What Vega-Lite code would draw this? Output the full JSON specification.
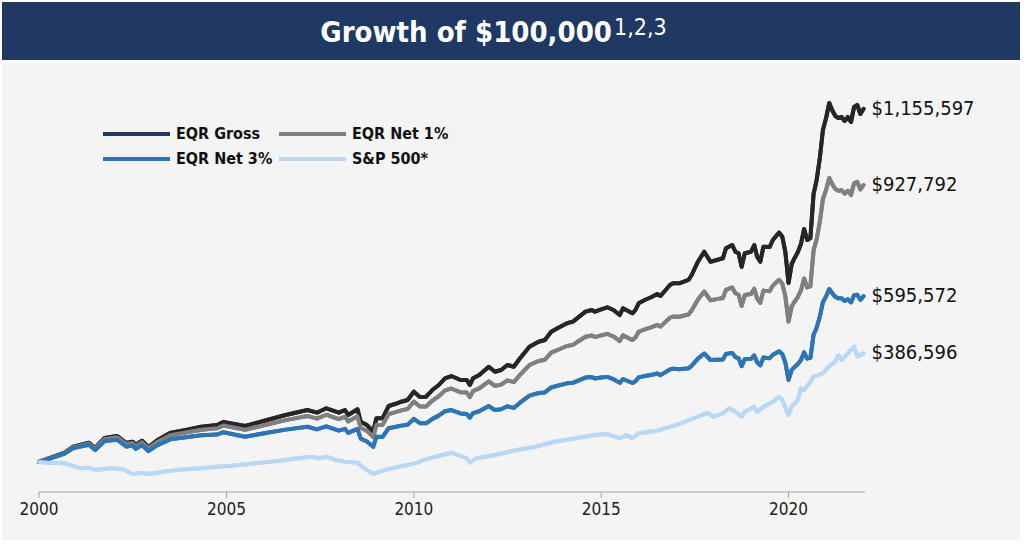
{
"$schema": "https://vega.github.io/schema/vega-lite/v6.json",
"padding": {"left": 2, "top": 2, "right": 4, "bottom": 10},
"background": "white",
"spacing": 2,
"config": {"view": {"stroke": null}, "font": "DejaVu Sans Condensed, Liberation Sans, sans-serif"},
"datasets": {
"ticks": [{"d": "2000-01", "lab": "2000"}, {"d": "2005-01", "lab": "2005"}, {"d": "2010-01", "lab": "2010"}, {"d": "2015-01", "lab": "2015"}, {"d": "2020-01", "lab": "2020"}],
"span": [{"d": "2000-01", "d2": "2022-01-15"}],
"ends": [
{"d": "2022-01", "v": 1155.6, "t": "$1,155,597"},
{"d": "2022-01", "v": 927.8, "t": "$927,792"},
{"d": "2022-01", "v": 595.6, "t": "$595,572"},
{"d": "2022-01", "v": 425.0, "t": "$386,596"}
],
"lines": [
{"s":"EQR Gross","d":"2000-01","v":100},{"s":"EQR Gross","d":"2000-09","v":126.9},{"s":"EQR Gross","d":"2000-12","v":145.7},{"s":"EQR Gross","d":"2001-05","v":157.7},{"s":"EQR Gross","d":"2001-07","v":141.9},{"s":"EQR Gross","d":"2001-10","v":171.8},{"s":"EQR Gross","d":"2002-02","v":177.7},{"s":"EQR Gross","d":"2002-05","v":156.8},{"s":"EQR Gross","d":"2002-07","v":160.7},{"s":"EQR Gross","d":"2002-08","v":150.8},{"s":"EQR Gross","d":"2002-10","v":163.7},{"s":"EQR Gross","d":"2002-12","v":144.9},{"s":"EQR Gross","d":"2003-03","v":165.8},{"s":"EQR Gross","d":"2003-07","v":186.7},{"s":"EQR Gross","d":"2003-12","v":195.7},{"s":"EQR Gross","d":"2004-05","v":205.5},{"s":"EQR Gross","d":"2004-10","v":210.6},{"s":"EQR Gross","d":"2004-12","v":219.6},{"s":"EQR Gross","d":"2005-07","v":207.6},{"s":"EQR Gross","d":"2006-02","v":225.6},{"s":"EQR Gross","d":"2006-08","v":240.5},{"s":"EQR Gross","d":"2007-03","v":255.5},{"s":"EQR Gross","d":"2007-06","v":247.4},{"s":"EQR Gross","d":"2007-09","v":260.6},{"s":"EQR Gross","d":"2008-01","v":247.4},{"s":"EQR Gross","d":"2008-03","v":255.5},{"s":"EQR Gross","d":"2008-04","v":240.5},{"s":"EQR Gross","d":"2008-07","v":257.6},{"s":"EQR Gross","d":"2008-08","v":220.5},{"s":"EQR Gross","d":"2008-10","v":210.6},{"s":"EQR Gross","d":"2008-12","v":190.6},{"s":"EQR Gross","d":"2009-01","v":230.7},{"s":"EQR Gross","d":"2009-03","v":230.7},{"s":"EQR Gross","d":"2009-05","v":267.4},{"s":"EQR Gross","d":"2009-07","v":273.4},{"s":"EQR Gross","d":"2009-09","v":280.3},{"s":"EQR Gross","d":"2009-11","v":285.4},{"s":"EQR Gross","d":"2010-01","v":310.2},{"s":"EQR Gross","d":"2010-03","v":294.4},{"s":"EQR Gross","d":"2010-05","v":295.2},{"s":"EQR Gross","d":"2010-07","v":315.3},{"s":"EQR Gross","d":"2010-09","v":330.2},{"s":"EQR Gross","d":"2010-11","v":350.3},{"s":"EQR Gross","d":"2011-01","v":357.1},{"s":"EQR Gross","d":"2011-04","v":345.2},{"s":"EQR Gross","d":"2011-06","v":345.2},{"s":"EQR Gross","d":"2011-07","v":330.2},{"s":"EQR Gross","d":"2011-08","v":350.3},{"s":"EQR Gross","d":"2011-10","v":360.1},{"s":"EQR Gross","d":"2012-01","v":384.9},{"s":"EQR Gross","d":"2012-03","v":370.0},{"s":"EQR Gross","d":"2012-05","v":375.1},{"s":"EQR Gross","d":"2012-07","v":390.0},{"s":"EQR Gross","d":"2012-09","v":384.9},{"s":"EQR Gross","d":"2012-11","v":410.1},{"s":"EQR Gross","d":"2013-02","v":444.7},{"s":"EQR Gross","d":"2013-05","v":459.7},{"s":"EQR Gross","d":"2013-07","v":464.8},{"s":"EQR Gross","d":"2013-09","v":489.6},{"s":"EQR Gross","d":"2013-11","v":499.8},{"s":"EQR Gross","d":"2014-02","v":514.7},{"s":"EQR Gross","d":"2014-04","v":519.6},{"s":"EQR Gross","d":"2014-06","v":534.5},{"s":"EQR Gross","d":"2014-08","v":549.5},{"s":"EQR Gross","d":"2014-10","v":554.5},{"s":"EQR Gross","d":"2014-11","v":549.5},{"s":"EQR Gross","d":"2015-01","v":556.6},{"s":"EQR Gross","d":"2015-03","v":562.6},{"s":"EQR Gross","d":"2015-05","v":554.5},{"s":"EQR Gross","d":"2015-07","v":539.5},{"s":"EQR Gross","d":"2015-08","v":559.6},{"s":"EQR Gross","d":"2015-11","v":544.6},{"s":"EQR Gross","d":"2015-12","v":554.5},{"s":"EQR Gross","d":"2016-01","v":574.5},{"s":"EQR Gross","d":"2016-03","v":584.4},{"s":"EQR Gross","d":"2016-05","v":592.5},{"s":"EQR Gross","d":"2016-07","v":602.3},{"s":"EQR Gross","d":"2016-08","v":596.3},{"s":"EQR Gross","d":"2016-11","v":629.2},{"s":"EQR Gross","d":"2016-12","v":634.3},{"s":"EQR Gross","d":"2017-02","v":634.3},{"s":"EQR Gross","d":"2017-05","v":644.2},{"s":"EQR Gross","d":"2017-06","v":659.1},{"s":"EQR Gross","d":"2017-08","v":698.9},{"s":"EQR Gross","d":"2017-10","v":728.8},{"s":"EQR Gross","d":"2017-12","v":698.9},{"s":"EQR Gross","d":"2018-02","v":704.0},{"s":"EQR Gross","d":"2018-04","v":709.1},{"s":"EQR Gross","d":"2018-05","v":739.0},{"s":"EQR Gross","d":"2018-07","v":748.8},{"s":"EQR Gross","d":"2018-08","v":728.8},{"s":"EQR Gross","d":"2018-09","v":724.0},{"s":"EQR Gross","d":"2018-10","v":683.9},{"s":"EQR Gross","d":"2018-11","v":724.0},{"s":"EQR Gross","d":"2019-01","v":728.8},{"s":"EQR Gross","d":"2019-02","v":748.8},{"s":"EQR Gross","d":"2019-03","v":713.8},{"s":"EQR Gross","d":"2019-04","v":698.9},{"s":"EQR Gross","d":"2019-05","v":743.7},{"s":"EQR Gross","d":"2019-07","v":742.9},{"s":"EQR Gross","d":"2019-08","v":763.8},{"s":"EQR Gross","d":"2019-10","v":786.2},{"s":"EQR Gross","d":"2019-11","v":773.6},{"s":"EQR Gross","d":"2019-12","v":727.9},{"s":"EQR Gross","d":"2020-01","v":635.2},{"s":"EQR Gross","d":"2020-02","v":692.0},{"s":"EQR Gross","d":"2020-03","v":710.0},{"s":"EQR Gross","d":"2020-04","v":727.9},{"s":"EQR Gross","d":"2020-05","v":751.8},{"s":"EQR Gross","d":"2020-06","v":796.7},{"s":"EQR Gross","d":"2020-07","v":763.8},{"s":"EQR Gross","d":"2020-08","v":769.8},{"s":"EQR Gross","d":"2020-09","v":901.3},{"s":"EQR Gross","d":"2020-10","v":943.2},{"s":"EQR Gross","d":"2020-11","v":1009.0},{"s":"EQR Gross","d":"2020-12","v":1092.7},{"s":"EQR Gross","d":"2021-01","v":1128.6},{"s":"EQR Gross","d":"2021-02","v":1173.4},{"s":"EQR Gross","d":"2021-03","v":1152.5},{"s":"EQR Gross","d":"2021-04","v":1134.5},{"s":"EQR Gross","d":"2021-05","v":1128.6},{"s":"EQR Gross","d":"2021-06","v":1131.6},{"s":"EQR Gross","d":"2021-07","v":1119.6},{"s":"EQR Gross","d":"2021-08","v":1131.6},{"s":"EQR Gross","d":"2021-09","v":1116.6},{"s":"EQR Gross","d":"2021-10","v":1161.5},{"s":"EQR Gross","d":"2021-11","v":1167.4},{"s":"EQR Gross","d":"2021-12","v":1140.5},{"s":"EQR Gross","d":"2022-01","v":1155.6},
{"s":"EQR Net 1%","d":"2000-01","v":100},{"s":"EQR Net 1%","d":"2000-09","v":126.1},{"s":"EQR Net 1%","d":"2000-12","v":144.4},{"s":"EQR Net 1%","d":"2001-05","v":155.6},{"s":"EQR Net 1%","d":"2001-07","v":139.8},{"s":"EQR Net 1%","d":"2001-10","v":168.8},{"s":"EQR Net 1%","d":"2002-02","v":174.0},{"s":"EQR Net 1%","d":"2002-05","v":153.2},{"s":"EQR Net 1%","d":"2002-07","v":156.7},{"s":"EQR Net 1%","d":"2002-08","v":146.9},{"s":"EQR Net 1%","d":"2002-10","v":159.2},{"s":"EQR Net 1%","d":"2002-12","v":140.7},{"s":"EQR Net 1%","d":"2003-03","v":160.6},{"s":"EQR Net 1%","d":"2003-07","v":180.2},{"s":"EQR Net 1%","d":"2003-12","v":188.2},{"s":"EQR Net 1%","d":"2004-05","v":196.7},{"s":"EQR Net 1%","d":"2004-10","v":200.8},{"s":"EQR Net 1%","d":"2004-12","v":209.0},{"s":"EQR Net 1%","d":"2005-07","v":196.4},{"s":"EQR Net 1%","d":"2006-02","v":212.2},{"s":"EQR Net 1%","d":"2006-08","v":225.1},{"s":"EQR Net 1%","d":"2007-03","v":237.7},{"s":"EQR Net 1%","d":"2007-06","v":229.6},{"s":"EQR Net 1%","d":"2007-09","v":241.3},{"s":"EQR Net 1%","d":"2008-01","v":228.3},{"s":"EQR Net 1%","d":"2008-03","v":235.4},{"s":"EQR Net 1%","d":"2008-04","v":221.4},{"s":"EQR Net 1%","d":"2008-07","v":236.5},{"s":"EQR Net 1%","d":"2008-08","v":202.3},{"s":"EQR Net 1%","d":"2008-10","v":192.9},{"s":"EQR Net 1%","d":"2008-12","v":174.3},{"s":"EQR Net 1%","d":"2009-01","v":210.8},{"s":"EQR Net 1%","d":"2009-03","v":210.4},{"s":"EQR Net 1%","d":"2009-05","v":243.5},{"s":"EQR Net 1%","d":"2009-07","v":248.5},{"s":"EQR Net 1%","d":"2009-09","v":254.4},{"s":"EQR Net 1%","d":"2009-11","v":258.5},{"s":"EQR Net 1%","d":"2010-01","v":280.5},{"s":"EQR Net 1%","d":"2010-03","v":265.8},{"s":"EQR Net 1%","d":"2010-05","v":266.1},{"s":"EQR Net 1%","d":"2010-07","v":283.7},{"s":"EQR Net 1%","d":"2010-09","v":296.6},{"s":"EQR Net 1%","d":"2010-11","v":314.2},{"s":"EQR Net 1%","d":"2011-01","v":319.7},{"s":"EQR Net 1%","d":"2011-04","v":308.3},{"s":"EQR Net 1%","d":"2011-06","v":307.8},{"s":"EQR Net 1%","d":"2011-07","v":294.2},{"s":"EQR Net 1%","d":"2011-08","v":311.8},{"s":"EQR Net 1%","d":"2011-10","v":320.0},{"s":"EQR Net 1%","d":"2012-01","v":341.2},{"s":"EQR Net 1%","d":"2012-03","v":327.4},{"s":"EQR Net 1%","d":"2012-05","v":331.4},{"s":"EQR Net 1%","d":"2012-07","v":344.0},{"s":"EQR Net 1%","d":"2012-09","v":338.9},{"s":"EQR Net 1%","d":"2012-11","v":360.5},{"s":"EQR Net 1%","d":"2013-02","v":389.9},{"s":"EQR Net 1%","d":"2013-05","v":402.1},{"s":"EQR Net 1%","d":"2013-07","v":405.8},{"s":"EQR Net 1%","d":"2013-09","v":426.8},{"s":"EQR Net 1%","d":"2013-11","v":434.9},{"s":"EQR Net 1%","d":"2014-02","v":446.8},{"s":"EQR Net 1%","d":"2014-04","v":450.3},{"s":"EQR Net 1%","d":"2014-06","v":462.4},{"s":"EQR Net 1%","d":"2014-08","v":474.6},{"s":"EQR Net 1%","d":"2014-10","v":478.1},{"s":"EQR Net 1%","d":"2014-11","v":473.4},{"s":"EQR Net 1%","d":"2015-01","v":478.7},{"s":"EQR Net 1%","d":"2015-03","v":483.1},{"s":"EQR Net 1%","d":"2015-05","v":475.3},{"s":"EQR Net 1%","d":"2015-07","v":461.7},{"s":"EQR Net 1%","d":"2015-08","v":478.5},{"s":"EQR Net 1%","d":"2015-11","v":464.5},{"s":"EQR Net 1%","d":"2015-12","v":472.5},{"s":"EQR Net 1%","d":"2016-01","v":489.2},{"s":"EQR Net 1%","d":"2016-03","v":496.8},{"s":"EQR Net 1%","d":"2016-05","v":502.8},{"s":"EQR Net 1%","d":"2016-07","v":510.3},{"s":"EQR Net 1%","d":"2016-08","v":504.8},{"s":"EQR Net 1%","d":"2016-11","v":531.3},{"s":"EQR Net 1%","d":"2016-12","v":535.1},{"s":"EQR Net 1%","d":"2017-02","v":534.2},{"s":"EQR Net 1%","d":"2017-05","v":541.2},{"s":"EQR Net 1%","d":"2017-06","v":553.3},{"s":"EQR Net 1%","d":"2017-08","v":585.7},{"s":"EQR Net 1%","d":"2017-10","v":609.7},{"s":"EQR Net 1%","d":"2017-12","v":583.7},{"s":"EQR Net 1%","d":"2018-02","v":587.0},{"s":"EQR Net 1%","d":"2018-04","v":590.3},{"s":"EQR Net 1%","d":"2018-05","v":614.7},{"s":"EQR Net 1%","d":"2018-07","v":621.8},{"s":"EQR Net 1%","d":"2018-08","v":604.7},{"s":"EQR Net 1%","d":"2018-09","v":600.2},{"s":"EQR Net 1%","d":"2018-10","v":566.5},{"s":"EQR Net 1%","d":"2018-11","v":599.2},{"s":"EQR Net 1%","d":"2019-01","v":602.1},{"s":"EQR Net 1%","d":"2019-02","v":618.1},{"s":"EQR Net 1%","d":"2019-03","v":588.7},{"s":"EQR Net 1%","d":"2019-04","v":576.0},{"s":"EQR Net 1%","d":"2019-05","v":612.4},{"s":"EQR Net 1%","d":"2019-07","v":610.7},{"s":"EQR Net 1%","d":"2019-08","v":627.4},{"s":"EQR Net 1%","d":"2019-10","v":644.7},{"s":"EQR Net 1%","d":"2019-11","v":633.8},{"s":"EQR Net 1%","d":"2019-12","v":595.9},{"s":"EQR Net 1%","d":"2020-01","v":519.5},{"s":"EQR Net 1%","d":"2020-02","v":565.5},{"s":"EQR Net 1%","d":"2020-03","v":579.8},{"s":"EQR Net 1%","d":"2020-04","v":593.9},{"s":"EQR Net 1%","d":"2020-05","v":612.9},{"s":"EQR Net 1%","d":"2020-06","v":648.9},{"s":"EQR Net 1%","d":"2020-07","v":621.6},{"s":"EQR Net 1%","d":"2020-08","v":626.0},{"s":"EQR Net 1%","d":"2020-09","v":732.3},{"s":"EQR Net 1%","d":"2020-10","v":765.7},{"s":"EQR Net 1%","d":"2020-11","v":818.4},{"s":"EQR Net 1%","d":"2020-12","v":885.6},{"s":"EQR Net 1%","d":"2021-01","v":913.9},{"s":"EQR Net 1%","d":"2021-02","v":949.3},{"s":"EQR Net 1%","d":"2021-03","v":931.7},{"s":"EQR Net 1%","d":"2021-04","v":916.3},{"s":"EQR Net 1%","d":"2021-05","v":910.8},{"s":"EQR Net 1%","d":"2021-06","v":912.5},{"s":"EQR Net 1%","d":"2021-07","v":902.0},{"s":"EQR Net 1%","d":"2021-08","v":910.9},{"s":"EQR Net 1%","d":"2021-09","v":898.1},{"s":"EQR Net 1%","d":"2021-10","v":933.4},{"s":"EQR Net 1%","d":"2021-11","v":937.4},{"s":"EQR Net 1%","d":"2021-12","v":915.0},{"s":"EQR Net 1%","d":"2022-01","v":927.8},
{"s":"EQR Net 3%","d":"2000-01","v":100},{"s":"EQR Net 3%","d":"2000-09","v":124.4},{"s":"EQR Net 3%","d":"2000-12","v":141.7},{"s":"EQR Net 3%","d":"2001-05","v":151.4},{"s":"EQR Net 3%","d":"2001-07","v":135.6},{"s":"EQR Net 3%","d":"2001-10","v":162.9},{"s":"EQR Net 3%","d":"2002-02","v":166.8},{"s":"EQR Net 3%","d":"2002-05","v":146.0},{"s":"EQR Net 3%","d":"2002-07","v":148.9},{"s":"EQR Net 3%","d":"2002-08","v":139.4},{"s":"EQR Net 3%","d":"2002-10","v":150.5},{"s":"EQR Net 3%","d":"2002-12","v":132.6},{"s":"EQR Net 3%","d":"2003-03","v":150.6},{"s":"EQR Net 3%","d":"2003-07","v":167.8},{"s":"EQR Net 3%","d":"2003-12","v":173.7},{"s":"EQR Net 3%","d":"2004-05","v":180.1},{"s":"EQR Net 3%","d":"2004-10","v":182.2},{"s":"EQR Net 3%","d":"2004-12","v":189.1},{"s":"EQR Net 3%","d":"2005-07","v":175.6},{"s":"EQR Net 3%","d":"2006-02","v":187.4},{"s":"EQR Net 3%","d":"2006-08","v":196.8},{"s":"EQR Net 3%","d":"2007-03","v":205.4},{"s":"EQR Net 3%","d":"2007-06","v":197.4},{"s":"EQR Net 3%","d":"2007-09","v":206.3},{"s":"EQR Net 3%","d":"2008-01","v":193.9},{"s":"EQR Net 3%","d":"2008-03","v":199.2},{"s":"EQR Net 3%","d":"2008-04","v":187.1},{"s":"EQR Net 3%","d":"2008-07","v":198.8},{"s":"EQR Net 3%","d":"2008-08","v":169.8},{"s":"EQR Net 3%","d":"2008-10","v":161.3},{"s":"EQR Net 3%","d":"2008-12","v":145.3},{"s":"EQR Net 3%","d":"2009-01","v":175.4},{"s":"EQR Net 3%","d":"2009-03","v":174.5},{"s":"EQR Net 3%","d":"2009-05","v":201.2},{"s":"EQR Net 3%","d":"2009-07","v":204.7},{"s":"EQR Net 3%","d":"2009-09","v":208.8},{"s":"EQR Net 3%","d":"2009-11","v":211.5},{"s":"EQR Net 3%","d":"2010-01","v":228.8},{"s":"EQR Net 3%","d":"2010-03","v":216.0},{"s":"EQR Net 3%","d":"2010-05","v":215.5},{"s":"EQR Net 3%","d":"2010-07","v":229.0},{"s":"EQR Net 3%","d":"2010-09","v":238.6},{"s":"EQR Net 3%","d":"2010-11","v":251.9},{"s":"EQR Net 3%","d":"2011-01","v":255.4},{"s":"EQR Net 3%","d":"2011-04","v":245.1},{"s":"EQR Net 3%","d":"2011-06","v":243.8},{"s":"EQR Net 3%","d":"2011-07","v":232.6},{"s":"EQR Net 3%","d":"2011-08","v":246.2},{"s":"EQR Net 3%","d":"2011-10","v":251.8},{"s":"EQR Net 3%","d":"2012-01","v":267.1},{"s":"EQR Net 3%","d":"2012-03","v":255.4},{"s":"EQR Net 3%","d":"2012-05","v":257.6},{"s":"EQR Net 3%","d":"2012-07","v":266.5},{"s":"EQR Net 3%","d":"2012-09","v":261.7},{"s":"EQR Net 3%","d":"2012-11","v":277.4},{"s":"EQR Net 3%","d":"2013-02","v":298.5},{"s":"EQR Net 3%","d":"2013-05","v":306.3},{"s":"EQR Net 3%","d":"2013-07","v":308.1},{"s":"EQR Net 3%","d":"2013-09","v":322.9},{"s":"EQR Net 3%","d":"2013-11","v":328.0},{"s":"EQR Net 3%","d":"2014-02","v":335.2},{"s":"EQR Net 3%","d":"2014-04","v":336.7},{"s":"EQR Net 3%","d":"2014-06","v":344.6},{"s":"EQR Net 3%","d":"2014-08","v":352.4},{"s":"EQR Net 3%","d":"2014-10","v":353.8},{"s":"EQR Net 3%","d":"2014-11","v":349.8},{"s":"EQR Net 3%","d":"2015-01","v":352.5},{"s":"EQR Net 3%","d":"2015-03","v":354.5},{"s":"EQR Net 3%","d":"2015-05","v":347.6},{"s":"EQR Net 3%","d":"2015-07","v":336.5},{"s":"EQR Net 3%","d":"2015-08","v":348.1},{"s":"EQR Net 3%","d":"2015-11","v":336.2},{"s":"EQR Net 3%","d":"2015-12","v":341.5},{"s":"EQR Net 3%","d":"2016-01","v":352.9},{"s":"EQR Net 3%","d":"2016-03","v":357.2},{"s":"EQR Net 3%","d":"2016-05","v":360.3},{"s":"EQR Net 3%","d":"2016-07","v":364.4},{"s":"EQR Net 3%","d":"2016-08","v":359.8},{"s":"EQR Net 3%","d":"2016-11","v":376.8},{"s":"EQR Net 3%","d":"2016-12","v":378.9},{"s":"EQR Net 3%","d":"2017-02","v":377.0},{"s":"EQR Net 3%","d":"2017-05","v":380.0},{"s":"EQR Net 3%","d":"2017-06","v":387.8},{"s":"EQR Net 3%","d":"2017-08","v":409.1},{"s":"EQR Net 3%","d":"2017-10","v":424.5},{"s":"EQR Net 3%","d":"2017-12","v":405.0},{"s":"EQR Net 3%","d":"2018-02","v":405.9},{"s":"EQR Net 3%","d":"2018-04","v":406.7},{"s":"EQR Net 3%","d":"2018-05","v":422.8},{"s":"EQR Net 3%","d":"2018-07","v":426.2},{"s":"EQR Net 3%","d":"2018-08","v":413.8},{"s":"EQR Net 3%","d":"2018-09","v":410.0},{"s":"EQR Net 3%","d":"2018-10","v":386.3},{"s":"EQR Net 3%","d":"2018-11","v":408.0},{"s":"EQR Net 3%","d":"2019-01","v":408.6},{"s":"EQR Net 3%","d":"2019-02","v":418.7},{"s":"EQR Net 3%","d":"2019-03","v":398.2},{"s":"EQR Net 3%","d":"2019-04","v":388.9},{"s":"EQR Net 3%","d":"2019-05","v":412.7},{"s":"EQR Net 3%","d":"2019-07","v":410.2},{"s":"EQR Net 3%","d":"2019-08","v":420.7},{"s":"EQR Net 3%","d":"2019-10","v":430.8},{"s":"EQR Net 3%","d":"2019-11","v":422.8},{"s":"EQR Net 3%","d":"2019-12","v":396.9},{"s":"EQR Net 3%","d":"2020-01","v":345.4},{"s":"EQR Net 3%","d":"2020-02","v":375.4},{"s":"EQR Net 3%","d":"2020-03","v":384.2},{"s":"EQR Net 3%","d":"2020-04","v":392.8},{"s":"EQR Net 3%","d":"2020-05","v":404.7},{"s":"EQR Net 3%","d":"2020-06","v":427.8},{"s":"EQR Net 3%","d":"2020-07","v":409.1},{"s":"EQR Net 3%","d":"2020-08","v":411.3},{"s":"EQR Net 3%","d":"2020-09","v":480.3},{"s":"EQR Net 3%","d":"2020-10","v":501.4},{"s":"EQR Net 3%","d":"2020-11","v":535.0},{"s":"EQR Net 3%","d":"2020-12","v":577.9},{"s":"EQR Net 3%","d":"2021-01","v":595.3},{"s":"EQR Net 3%","d":"2021-02","v":617.3},{"s":"EQR Net 3%","d":"2021-03","v":604.8},{"s":"EQR Net 3%","d":"2021-04","v":593.9},{"s":"EQR Net 3%","d":"2021-05","v":589.3},{"s":"EQR Net 3%","d":"2021-06","v":589.3},{"s":"EQR Net 3%","d":"2021-07","v":581.6},{"s":"EQR Net 3%","d":"2021-08","v":586.4},{"s":"EQR Net 3%","d":"2021-09","v":577.1},{"s":"EQR Net 3%","d":"2021-10","v":598.8},{"s":"EQR Net 3%","d":"2021-11","v":600.3},{"s":"EQR Net 3%","d":"2021-12","v":585.0},{"s":"EQR Net 3%","d":"2022-01","v":595.6},
{"s":"S&P 500*","d":"2000-01","v":100},{"s":"S&P 500*","d":"2000-04","v":97.9},{"s":"S&P 500*","d":"2000-09","v":96.1},{"s":"S&P 500*","d":"2000-11","v":91.0},{"s":"S&P 500*","d":"2001-02","v":81.2},{"s":"S&P 500*","d":"2001-05","v":83.0},{"s":"S&P 500*","d":"2001-07","v":76.1},{"s":"S&P 500*","d":"2001-12","v":81.2},{"s":"S&P 500*","d":"2002-04","v":78.2},{"s":"S&P 500*","d":"2002-07","v":64.1},{"s":"S&P 500*","d":"2002-10","v":68.0},{"s":"S&P 500*","d":"2002-12","v":64.1},{"s":"S&P 500*","d":"2003-05","v":71.0},{"s":"S&P 500*","d":"2003-09","v":76.1},{"s":"S&P 500*","d":"2004-01","v":79.1},{"s":"S&P 500*","d":"2004-05","v":81.2},{"s":"S&P 500*","d":"2004-10","v":85.9},{"s":"S&P 500*","d":"2005-02","v":88.0},{"s":"S&P 500*","d":"2005-05","v":91.0},{"s":"S&P 500*","d":"2005-12","v":97.9},{"s":"S&P 500*","d":"2006-06","v":103.9},{"s":"S&P 500*","d":"2006-12","v":111.1},{"s":"S&P 500*","d":"2007-04","v":115.8},{"s":"S&P 500*","d":"2007-07","v":111.1},{"s":"S&P 500*","d":"2007-09","v":115.8},{"s":"S&P 500*","d":"2007-12","v":106.0},{"s":"S&P 500*","d":"2008-03","v":100.9},{"s":"S&P 500*","d":"2008-07","v":97.9},{"s":"S&P 500*","d":"2008-09","v":81.2},{"s":"S&P 500*","d":"2008-12","v":64.1},{"s":"S&P 500*","d":"2009-02","v":71.0},{"s":"S&P 500*","d":"2009-06","v":81.2},{"s":"S&P 500*","d":"2009-11","v":91.0},{"s":"S&P 500*","d":"2010-02","v":97.9},{"s":"S&P 500*","d":"2010-04","v":106.0},{"s":"S&P 500*","d":"2010-08","v":115.8},{"s":"S&P 500*","d":"2011-01","v":127.8},{"s":"S&P 500*","d":"2011-06","v":111.1},{"s":"S&P 500*","d":"2011-07","v":97.9},{"s":"S&P 500*","d":"2011-09","v":111.1},{"s":"S&P 500*","d":"2012-03","v":120.9},{"s":"S&P 500*","d":"2012-10","v":135.9},{"s":"S&P 500*","d":"2013-04","v":145.7},{"s":"S&P 500*","d":"2013-10","v":160.7},{"s":"S&P 500*","d":"2014-05","v":170.9},{"s":"S&P 500*","d":"2014-11","v":180.7},{"s":"S&P 500*","d":"2015-03","v":183.7},{"s":"S&P 500*","d":"2015-07","v":170.9},{"s":"S&P 500*","d":"2015-09","v":180.7},{"s":"S&P 500*","d":"2015-11","v":170.9},{"s":"S&P 500*","d":"2016-01","v":185.8},{"s":"S&P 500*","d":"2016-07","v":193.6},{"s":"S&P 500*","d":"2017-02","v":213.6},{"s":"S&P 500*","d":"2017-08","v":235.4},{"s":"S&P 500*","d":"2017-11","v":247.4},{"s":"S&P 500*","d":"2018-01","v":235.4},{"s":"S&P 500*","d":"2018-04","v":245.6},{"s":"S&P 500*","d":"2018-06","v":260.6},{"s":"S&P 500*","d":"2018-08","v":250.4},{"s":"S&P 500*","d":"2018-10","v":235.4},{"s":"S&P 500*","d":"2018-11","v":250.4},{"s":"S&P 500*","d":"2019-02","v":265.3},{"s":"S&P 500*","d":"2019-03","v":250.4},{"s":"S&P 500*","d":"2019-05","v":265.3},{"s":"S&P 500*","d":"2019-08","v":280.3},{"s":"S&P 500*","d":"2019-10","v":295.2},{"s":"S&P 500*","d":"2019-11","v":285.4},{"s":"S&P 500*","d":"2020-01","v":240.5},{"s":"S&P 500*","d":"2020-02","v":265.3},{"s":"S&P 500*","d":"2020-04","v":285.4},{"s":"S&P 500*","d":"2020-05","v":320.4},{"s":"S&P 500*","d":"2020-06","v":315.3},{"s":"S&P 500*","d":"2020-08","v":340.1},{"s":"S&P 500*","d":"2020-09","v":355.0},{"s":"S&P 500*","d":"2020-12","v":365.2},{"s":"S&P 500*","d":"2021-02","v":387.0},{"s":"S&P 500*","d":"2021-04","v":399.9},{"s":"S&P 500*","d":"2021-05","v":419.9},{"s":"S&P 500*","d":"2021-06","v":405.0},{"s":"S&P 500*","d":"2021-08","v":425.0},{"s":"S&P 500*","d":"2021-10","v":444.7},{"s":"S&P 500*","d":"2021-11","v":414.8},{"s":"S&P 500*","d":"2022-01","v":425.0}
]
},
"vconcat": [
{
"width": 1018,
"height": 58,
"view": {"fill": "#1f3864", "stroke": null},
"data": {"values": [{"main": "Growth of $100,000", "sup": "1,2,3"}]},
"layer": [
{"mark": {"type": "text", "align": "right", "baseline": "alphabetic", "dx": 101, "dy": 11, "fontSize": 29, "fontWeight": "bold", "color": "white"}, "encoding": {"text": {"field": "main"}}},
{"mark": {"type": "text", "align": "left", "baseline": "alphabetic", "dx": 103, "dy": 4, "fontSize": 23, "color": "white"}, "encoding": {"text": {"field": "sup"}}}
]
},
{
"width": 1018,
"height": 478,
"view": {"fill": "#f4f4f4", "stroke": null},
"layer": [
{
"data": {"name": "span"},
"mark": {"type": "rule", "color": "#a6a6a6", "strokeWidth": 1},
"encoding": {
 "x": {"field": "d", "type": "temporal", "scale": {"type": "utc", "domain": [{"year": 1999, "month": 1, "date": 5, "utc": true}, {"year": 2026, "month": 3, "date": 6, "utc": true}]}, "axis": null},
 "x2": {"field": "d2"},
 "y": {"datum": 10.3, "type": "quantitative", "scale": {"domain": [-133.22, 1296], "nice": false, "zero": false}, "axis": null}
}
},
{
"data": {"name": "ticks"},
"mark": {"type": "rule", "color": "#a6a6a6", "strokeWidth": 1},
"encoding": {
 "x": {"field": "d", "type": "temporal", "scale": {"type": "utc", "domain": [{"year": 1999, "month": 1, "date": 5, "utc": true}, {"year": 2026, "month": 3, "date": 6, "utc": true}]}, "axis": null},
 "y": {"datum": 10.3, "type": "quantitative", "scale": {"domain": [-133.22, 1296], "nice": false, "zero": false}, "axis": null},
 "y2": {"datum": -7.6}
}
},
{
"data": {"name": "ticks"},
"mark": {"type": "text", "align": "center", "baseline": "middle", "fontSize": 17, "color": "#222222"},
"encoding": {
 "x": {"field": "d", "type": "temporal", "scale": {"type": "utc", "domain": [{"year": 1999, "month": 1, "date": 5, "utc": true}, {"year": 2026, "month": 3, "date": 6, "utc": true}]}, "axis": null},
 "y": {"datum": -44.5, "type": "quantitative", "scale": {"domain": [-133.22, 1296], "nice": false, "zero": false}, "axis": null},
 "text": {"field": "lab"}
}
},
{
"data": {"name": "lines"},
"mark": {"type": "line", "strokeWidth": 4, "strokeJoin": "round", "strokeCap": "round"},
"encoding": {
 "x": {"field": "d", "type": "temporal", "scale": {"type": "utc", "domain": [{"year": 1999, "month": 1, "date": 5, "utc": true}, {"year": 2026, "month": 3, "date": 6, "utc": true}]}, "axis": null},
 "y": {"field": "v", "type": "quantitative", "scale": {"domain": [-133.22, 1296], "nice": false, "zero": false}, "axis": null},
 "color": {"field": "s", "type": "nominal",
  "scale": {"domain": ["EQR Gross", "EQR Net 1%", "EQR Net 3%", "S&P 500*"], "range": ["#1f3864", "#7f7f7f", "#2e75b6", "#bdd7ee"]},
  "legend": {"orient": "none", "legendX": 99, "legendY": 123, "columns": 2, "direction": "horizontal", "title": null, "symbolType": "stroke", "symbolSize": 4489, "symbolStrokeWidth": 4, "symbolOpacity": 1, "clipHeight": 18,
   "labelFontSize": 16, "labelFontWeight": "bold", "labelColor": "#111111", "labelOffset": 4, "columnPadding": 4, "rowPadding": 7, "padding": 0, "labelLimit": 300}}
}
},
{
"data": {"name": "lines"},
"mark": {"type": "line", "strokeWidth": 4, "strokeJoin": "round", "strokeCap": "round"},
"encoding": {
 "x": {"field": "d", "type": "temporal", "scale": {"type": "utc", "domain": [{"year": 1999, "month": 1, "date": 5, "utc": true}, {"year": 2026, "month": 3, "date": 6, "utc": true}]}, "axis": null},
 "y": {"field": "v", "type": "quantitative", "scale": {"domain": [-133.22, 1296], "nice": false, "zero": false}, "axis": null},
 "stroke": {"field": "s", "type": "nominal",
  "scale": {"domain": ["EQR Gross", "EQR Net 1%", "EQR Net 3%", "S&P 500*"], "range": ["#262626", "#808080", "#2e75b6", "#b9d8f8"]},
  "legend": null}
}
},
{
"data": {"name": "ends"},
"mark": {"type": "text", "align": "left", "baseline": "middle", "dx": 8, "fontSize": 20, "color": "#111111"},
"encoding": {
 "x": {"field": "d", "type": "temporal", "scale": {"type": "utc", "domain": [{"year": 1999, "month": 1, "date": 5, "utc": true}, {"year": 2026, "month": 3, "date": 6, "utc": true}]}, "axis": null},
 "y": {"field": "v", "type": "quantitative", "scale": {"domain": [-133.22, 1296], "nice": false, "zero": false}, "axis": null},
 "text": {"field": "t"}
}
}
]
}
]
}
